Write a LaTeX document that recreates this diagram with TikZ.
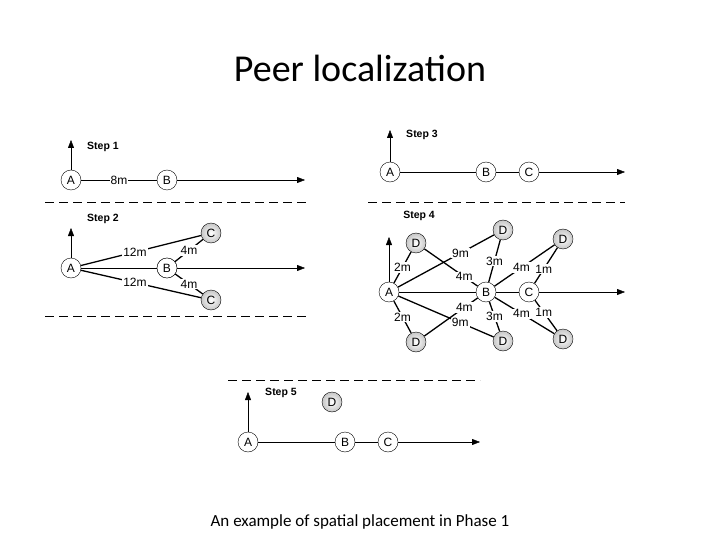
\documentclass[tikz,border=0pt]{standalone}
\usepackage{fontspec}
\setmainfont{Carlito}
\newfontfamily\labelfont{Liberation Sans}
\usepackage{tikz}
\usetikzlibrary{arrows.meta}

\tikzset{
  peer/.style={circle, draw, thin, minimum size=20pt, inner sep=0pt, font=\labelfont\fontsize{12}{12}\selectfont, fill=white},
  newpeer/.style={peer, inner color=white, outer color=gray!45},
  dist/.style={fill=white, inner sep=1pt, font=\labelfont\fontsize{12}{12}\selectfont},
  steptitle/.style={font=\labelfont\bfseries\fontsize{10.5}{10.5}\selectfont},
  axis/.style={-{Triangle[length=8pt,width=6pt]}, thin},
  link/.style={line width=1.3pt},
  sep/.style={dashed, dash pattern=on 9pt off 5pt, line width=1pt}
}

\begin{document}
\begin{tikzpicture}[x=1pt, y=-1pt]
  \useasboundingbox (0,0) rectangle (720,540);
  \node[font=\fontsize{38}{38}\selectfont] (title) at (360,68) {Peer localization};
  \node[font=\fontsize{17}{17}\selectfont] (caption) at (360,522) {An example of spatial placement in Phase 1};

  % separators
  \draw[sep] (45,203) -- (310,203);
  \draw[sep] (45,316) -- (310,316);
  \draw[sep] (368,203) -- (625,203);
  \draw[sep] (228,380) -- (480,380);

  % step 1
  \node[peer] (a1) at (71,180) {A};
  \node[peer] (b1) at (167,180) {B};
  \coordinate (x1) at (305,180);
  \coordinate (y1) at (71,140);
  \node[steptitle] (s1) at (103,147) {Step 1};
  \draw[axis] (a1) -- (y1);
  \draw[axis] (b1) -- (x1);
  \draw (a1) -- node[dist] {8m} (b1);

  % step 2
  \node[peer] (a2) at (71,268) {A};
  \node[peer] (b2) at (167,268) {B};
  \node[newpeer] (c2u) at (211,233) {C};
  \node[newpeer] (c2d) at (211,300) {C};
  \coordinate (x2) at (305,268);
  \coordinate (y2) at (71,228);
  \node[steptitle] (s2) at (103,219) {Step 2};
  \draw[axis] (a2) -- (y2);
  \draw[axis] (a2) -- (x2);
  \node[peer] at (b2) {B};
  \draw[link] (a2) -- node[dist, pos=0.45] {12m} (c2u);
  \draw[link] (a2) -- node[dist, pos=0.45] {12m} (c2d);
  \draw[link] (b2) -- node[dist] {4m} (c2u);
  \draw[link] (b2) -- node[dist] {4m} (c2d);

  % step 3
  \node[peer] (a3) at (390,172) {A};
  \node[peer] (b3) at (486,172) {B};
  \node[peer] (c3) at (529,172) {C};
  \coordinate (x3) at (625,172);
  \coordinate (y3) at (390,130);
  \node[steptitle] (s3) at (422,135) {Step 3};
  \draw[axis] (a3) -- (y3);
  \draw (a3) -- (b3) -- (c3);
  \draw[axis] (c3) -- (x3);

  % step 4
  \node[peer] (a4) at (389,292) {A};
  \node[peer] (b4) at (486,292) {B};
  \node[peer] (c4) at (529,292) {C};
  \node[newpeer] (d1) at (416,243) {D};
  \node[newpeer] (d2) at (503,230) {D};
  \node[newpeer] (d3) at (563,239) {D};
  \node[newpeer] (d4) at (416,342) {D};
  \node[newpeer] (d5) at (503,341) {D};
  \node[newpeer] (d6) at (563,339) {D};
  \coordinate (x4) at (625,292);
  \coordinate (y4) at (389,237);
  \node[steptitle] (s4) at (419,216) {Step 4};
  \draw[axis] (a4) -- (y4);
  \draw (a4) -- (b4) -- (c4);
  \draw[axis] (c4) -- (x4);
  \foreach \from/\to/\len/\where in {a4/d1/2m/0.5, a4/d4/2m/0.5, a4/d2/9m/0.65, a4/d5/9m/0.65,
      b4/d1/4m/0.25, b4/d4/4m/0.25, b4/d2/3m/0.5, b4/d5/3m/0.5,
      b4/d3/4m/0.45, b4/d6/4m/0.45, c4/d3/1m/0.4, c4/d6/1m/0.4}
    \draw[link] (\from) -- node[dist, pos=\where] {\len} (\to);

  % step 5
  \node[peer] (a5) at (248,442) {A};
  \node[peer] (b5) at (345,442) {B};
  \node[peer] (c5) at (388,442) {C};
  \node[newpeer] (d7) at (332,402) {D};
  \coordinate (x5) at (480,442);
  \coordinate (y5) at (248,392);
  \node[steptitle] (s5) at (281,393) {Step 5};
  \draw[axis] (a5) -- (y5);
  \draw (a5) -- (b5) -- (c5);
  \draw[axis] (c5) -- (x5);
\end{tikzpicture}
\end{document}
